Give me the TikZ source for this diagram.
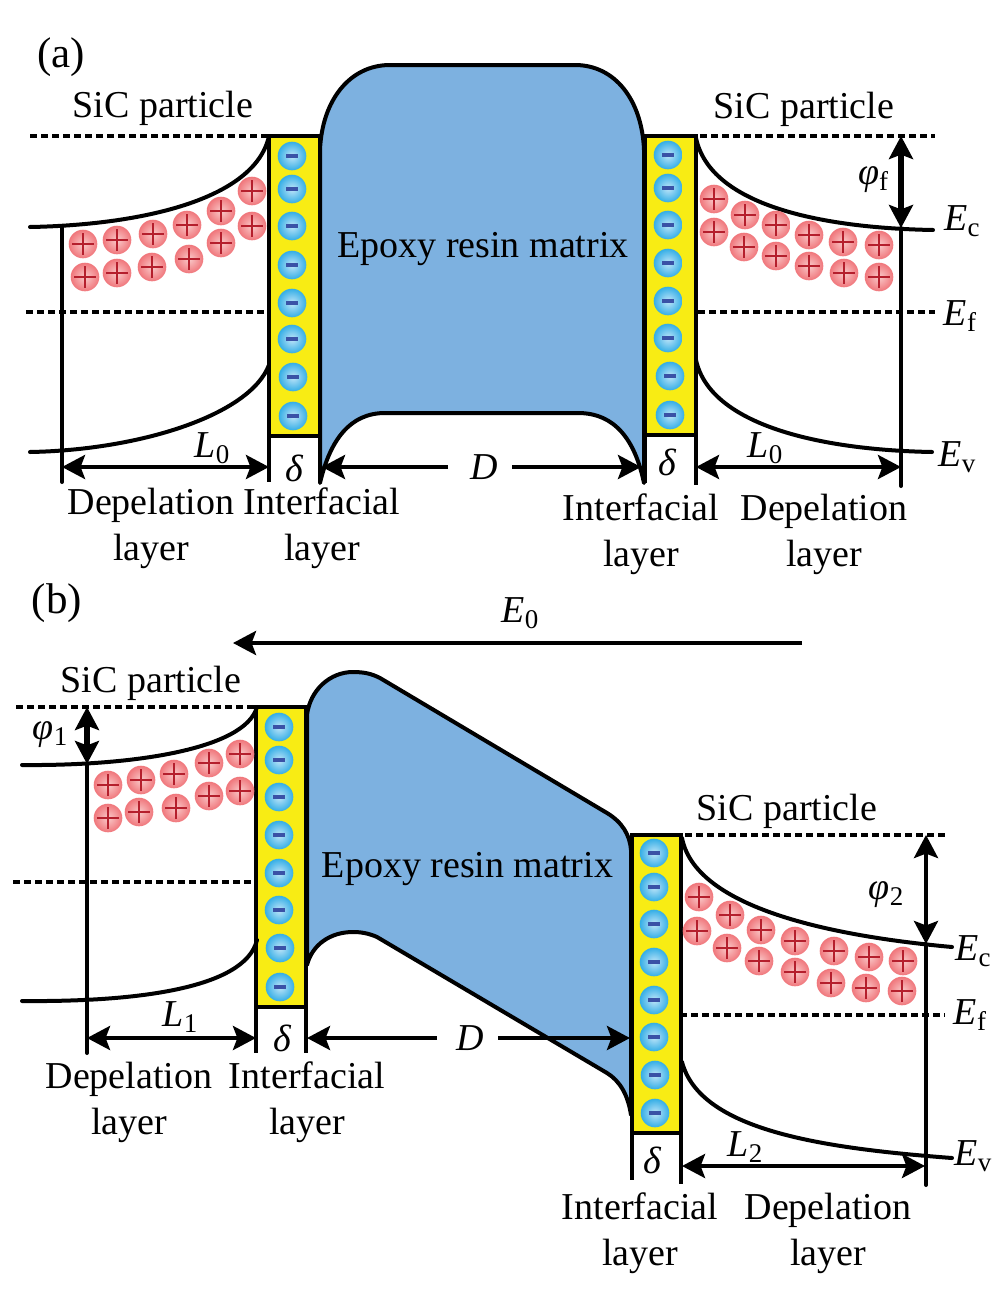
\documentclass[tikz,border=0pt]{standalone}
\usepackage{fontspec}
\setmainfont{Liberation Serif}
\usetikzlibrary{arrows.meta}
\definecolor{matrixblue}{HTML}{7DB1E0}
\definecolor{layeryellow}{HTML}{F8EC14}
\definecolor{plusedge}{HTML}{F0767B}
\definecolor{pluscore}{HTML}{F9CACA}
\definecolor{plusbar}{HTML}{B51F2D}
\definecolor{minusedge}{HTML}{35AEE6}
\definecolor{minuscore}{HTML}{C0E5F8}
\definecolor{minusbar}{HTML}{3A52A6}
\newcommand{\sbs}[1]{\raisebox{-3.2pt}{\fontsize{13.5}{13.5}\selectfont #1}}
\newcommand{\plusball}[1]{%
  \shade[inner color=pluscore,outer color=plusedge] (#1) circle[radius=14.3];
  \draw[plusbar,line width=1.15pt] ([xshift=-5.3pt]#1) -- ([xshift=5.3pt]#1);
  \draw[plusbar,line width=1.15pt] ([yshift=-5.3pt]#1) -- ([yshift=5.3pt]#1);}
\newcommand{\minusball}[1]{%
  \shade[inner color=minuscore,outer color=minusedge] (#1) circle[radius=14.3];
  \draw[minusbar,line width=1.6pt] ([xshift=-2.8pt]#1) -- ([xshift=2.8pt]#1);}
\tikzset{
  band/.style={line width=2pt,line cap=round},
  wall/.style={line width=2pt},
  frame/.style={draw=black,line width=2.2pt,fill=layeryellow},
  matrixfill/.style={draw=black,line width=2pt,fill=matrixblue,line join=round},
  level/.style={line width=2pt,dash pattern=on 3.5pt off 2pt},
  headtip/.tip={Stealth[length=11.5pt,width=12pt,inset=2.2pt]},
  dim/.style={line width=2pt,{headtip}-{headtip}},
  dimthick/.style={dim,line width=2.6pt},
  halfdim/.style={line width=2pt,-{headtip}},
  txt/.style={anchor=base,inner sep=0pt,font=\fontsize{19}{19}\selectfont},
  paneltag/.style={txt,font=\fontsize{21.5}{21.5}\selectfont},
}
\begin{document}
\begin{tikzpicture}[x=0.5pt,y=-0.5pt]
\useasboundingbox (0,0) rectangle (1004,1301);
% ---------- panel (a) ----------
\draw[matrixfill] (320,483) -- (320,150) .. controls (322,100) and (350,65) .. (390,65) -- (575,65)
  .. controls (615,65) and (642,100) .. (644,150) -- (644,483)
  .. controls (635,440) and (615,413) .. (578,413) -- (385,413)
  .. controls (350,413) and (330,440) .. (320,483) -- cycle;
\draw[frame] (269,136) rectangle (320,436);
\draw[frame] (645,136) rectangle (696,435);
\draw[wall] (269,436) -- (269,482);
\draw[wall] (320,436) -- (320,483);
\draw[wall] (645,435) -- (645,483);
\draw[wall] (696,435) -- (696,485);
\draw[level] (30,136) -- (267,136);
\draw[level] (26,312) -- (267,312);
\draw[level] (700,136) -- (935,136);
\draw[level] (698,312) -- (935,312);
\draw[band] (30,227) .. controls (140,225) and (255,200) .. (269,136);
\draw[band] (30,452) .. controls (140,450) and (250,415) .. (269,365);
\draw[band] (696,138) .. controls (710,205) and (820,228) .. (933,230);
\draw[band] (696,360) .. controls (710,425) and (820,450) .. (932,452);
\coordinate (aTL) at (62,226); \coordinate (aBL) at (62,482);
\coordinate (aTR) at (901,228); \coordinate (aBR) at (901,486);
\draw[wall,line cap=round] (aTL) -- (aBL);
\draw[wall,line cap=round] (aTR) -- (aBR);
\foreach \x/\y in {83/244,117/240,153/234,187/225,221/211,252/191,252/226,221/243,189/259,152/267,117/273,85/277,
  714/199,714/232,745/215,744/247,776/225,776/256,809/235,809/266,843/242,844/273,879/245,879/277}{
  \plusball{\x,\y}}
\foreach \x/\y in {292/156,292/189,292/226,292/265,292/303,292/339,293/377,293/416,
  668/155,668/188,668/225,668/263,668/301,668/338,670/376,670/415}{
  \minusball{\x,\y}}
\coordinate (aL0a) at (62,467); \coordinate (aL0b) at (269,467);
\coordinate (aDa) at (322,467); \coordinate (aDb) at (448,467);
\coordinate (aDc) at (512,467); \coordinate (aDd) at (641,467);
\coordinate (aL0c) at (696,467); \coordinate (aL0d) at (901,467);
\coordinate (aPhiT) at (901,136); \coordinate (aPhiB) at (901,228);
\draw[dim] (aL0a) -- (aL0b);
\draw[dim] (aL0c) -- (aL0d);
\draw[halfdim] (aDb) -- (aDa);
\draw[halfdim] (aDc) -- (aDd);
\draw[dimthick] (aPhiT) -- (aPhiB);
\node[paneltag] (tA) at (61,67) {(a)};
\node[txt] (aSicL) at (163,117) {SiC particle};
\node[txt] (aSicR) at (804,118) {SiC particle};
\node[txt] (aEpoxy) at (483,257) {Epoxy resin matrix};
\node[txt] (aDepL) at (151,514) {Depelation};
\node[txt] (aDepL2) at (151,560) {layer};
\node[txt] (aIntL) at (322,514) {Interfacial};
\node[txt] (aIntL2) at (322,560) {layer};
\node[txt] (aIntR) at (641,520) {Interfacial};
\node[txt] (aIntR2) at (641,566) {layer};
\node[txt] (aDepR) at (824,520) {Depelation};
\node[txt] (aDepR2) at (824,566) {layer};
\node[txt] (aLab1) at (212,457) {\textit{L}\sbs{0}};
\node[txt] (aDel1) at (295,481) {\textit{δ}};
\node[txt] (aDlab) at (484,479) {\textit{D}};
\node[txt] (aDel2) at (668,475) {\textit{δ}};
\node[txt] (aLab2) at (765,457) {\textit{L}\sbs{0}};
\node[txt] (aPhi) at (873,184) {\textit{φ}\sbs{f}};
\node[txt] (aEc) at (962,230) {\textit{E}\sbs{c}};
\node[txt] (aEf) at (960,325) {\textit{E}\sbs{f}};
\node[txt] (aEv) at (957,466) {\textit{E}\sbs{v}};
% ---------- panel (b) ----------
\node[paneltag] (tB) at (57,613) {(b)};
\node[txt] (bE0) at (520,622) {\textit{E}\sbs{0}};
\coordinate (bEa) at (802,643); \coordinate (bEb) at (233,643);
\draw[halfdim] (bEa) -- (bEb);
\draw[matrixfill] (307,965) -- (307,715) .. controls (310,690) and (330,672) .. (353,672)
  .. controls (365,672) and (372,674) .. (380,678) -- (607,813)
  .. controls (622,822) and (630,835) .. (631,850) -- (631,1115)
  .. controls (628,1095) and (620,1081) .. (607,1073) -- (377,937)
  .. controls (368,933) and (360,932) .. (353,932)
  .. controls (330,932) and (312,945) .. (307,965) -- cycle;
\draw[frame] (256,707) rectangle (306,1007);
\draw[frame] (632,835) rectangle (681,1133);
\draw[wall] (256,1007) -- (256,1053);
\draw[wall] (306,1007) -- (306,1053);
\draw[wall] (632,1133) -- (632,1180);
\draw[wall] (681,1133) -- (681,1184);
\draw[level] (16,707) -- (254,707);
\draw[level] (13,882) -- (254,882);
\draw[level] (685,835) -- (948,835);
\draw[level] (680,1015) -- (945,1015);
\draw[band] (22,765) .. controls (130,766) and (245,750) .. (257,707);
\draw[band] (22,1001) .. controls (130,1002) and (245,990) .. (257,940);
\draw[band] (682,838) .. controls (695,905) and (820,935) .. (952,947);
\draw[band] (682,1062) .. controls (700,1130) and (820,1148) .. (952,1158);
\coordinate (bTL) at (87,765); \coordinate (bBL) at (87,1053);
\coordinate (bTR) at (926,944); \coordinate (bBR) at (926,1185);
\draw[wall,line cap=round] (bTL) -- (bBL);
\draw[wall,line cap=round] (bTR) -- (bBR);
\foreach \x/\y in {108/785,141/780,174/774,209/763,240/754,240/791,209/796,176/808,139/812,108/818,
  699/897,697/931,730/915,727/948,761/930,759/961,795/941,795/972,834/951,831/983,869/957,866/988,903/961,902/991}{
  \plusball{\x,\y}}
\foreach \x/\y in {279/727,279/760,279/797,279/835,279/873,279/910,280/948,280/987,
  654/853,654/887,654/924,654/962,654/1000,654/1037,655/1075,655/1113}{
  \minusball{\x,\y}}
\coordinate (bL1a) at (87,1038); \coordinate (bL1b) at (256,1038);
\coordinate (bDa) at (307,1038); \coordinate (bDb) at (437,1038);
\coordinate (bDc) at (498,1038); \coordinate (bDd) at (630,1038);
\coordinate (bL2a) at (682,1166); \coordinate (bL2b) at (925,1166);
\coordinate (bP1T) at (87,707); \coordinate (bP1B) at (87,764);
\coordinate (bP2T) at (926,835); \coordinate (bP2B) at (926,944);
\draw[dim] (bL1a) -- (bL1b);
\draw[halfdim] (bDb) -- (bDa);
\draw[halfdim] (bDc) -- (bDd);
\draw[dim] (bL2a) -- (bL2b);
\draw[dimthick] (bP1T) -- (bP1B);
\draw[dim] (bP2T) -- (bP2B);
\node[txt] (bSicL) at (151,692) {SiC particle};
\node[txt] (bSicR) at (787,820) {SiC particle};
\node[txt] (bEpoxy) at (467.5,877) {Epoxy resin matrix};
\node[txt] (bDepL) at (129,1088) {Depelation};
\node[txt] (bDepL2) at (129,1134) {layer};
\node[txt] (bIntL) at (307,1088) {Interfacial};
\node[txt] (bIntL2) at (307,1134) {layer};
\node[txt] (bIntR) at (640,1219) {Interfacial};
\node[txt] (bIntR2) at (640,1265) {layer};
\node[txt] (bDepR) at (828,1219) {Depelation};
\node[txt] (bDepR2) at (828,1265) {layer};
\node[txt] (bPhi1) at (50,739) {\textit{φ}\sbs{1}};
\node[txt] (bLab1) at (180,1026) {\textit{L}\sbs{1}};
\node[txt] (bDel1) at (283,1051) {\textit{δ}};
\node[txt] (bDlab) at (470,1050) {\textit{D}};
\node[txt] (bDel2) at (653,1173) {\textit{δ}};
\node[txt] (bLab2) at (745,1156) {\textit{L}\sbs{2}};
\node[txt] (bPhi2) at (886,899) {\textit{φ}\sbs{2}};
\node[txt] (bEc) at (973,960) {\textit{E}\sbs{c}};
\node[txt] (bEf) at (970,1024) {\textit{E}\sbs{f}};
\node[txt] (bEv) at (973,1165) {\textit{E}\sbs{v}};
\end{tikzpicture}
\end{document}
